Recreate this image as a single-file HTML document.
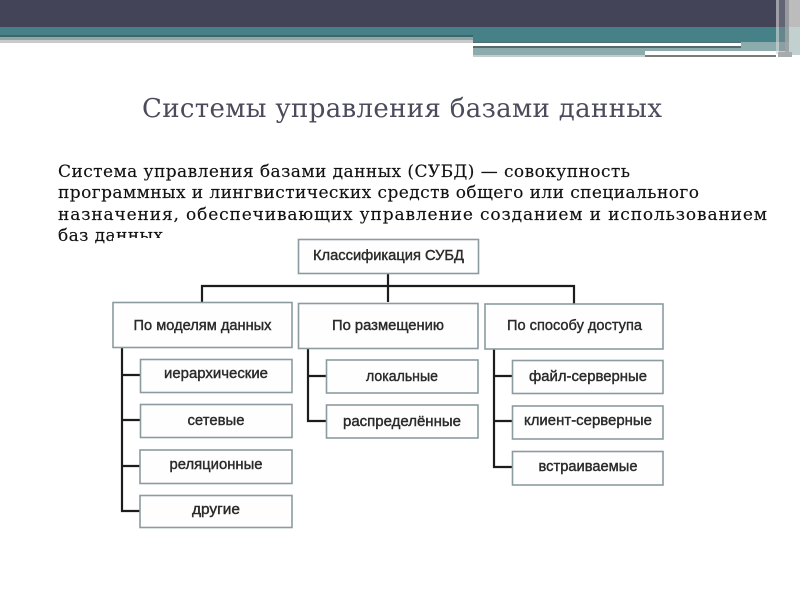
<!DOCTYPE html>
<html lang="ru">
<head>
<meta charset="utf-8">
<style>
html,body{margin:0;padding:0;background:#fff;width:800px;height:600px;overflow:hidden}
svg{display:block}
.t{font-family:"Liberation Sans",sans-serif;font-size:14.5px;fill:#2a2a2a;text-anchor:middle;stroke:#2a2a2a;stroke-width:.4}
.b{fill:#fefefe;stroke:#8b9ba0;stroke-width:1.6}
.l{stroke:#1c1c1c;stroke-width:2.2;fill:none}
.p{font-family:"DejaVu Serif",serif;font-size:17px;fill:#111;stroke:#111;stroke-width:.15}
</style>
</head>
<body>
<svg width="800" height="600" viewBox="0 0 800 600" xmlns="http://www.w3.org/2000/svg">
<rect width="800" height="600" fill="#fff"/>
<!-- header -->
<rect x="0" y="0" width="800" height="27" fill="#444459"/>
<rect x="0" y="27" width="800" height="8" fill="#458186"/>
<rect x="0" y="35" width="473" height="2" fill="#3f6469"/>
<rect x="0" y="37" width="473" height="3" fill="#90a6a9"/>
<rect x="0" y="40" width="473" height="3" fill="#cacaca"/>
<rect x="473" y="35" width="327" height="7" fill="#458186"/>
<rect x="473" y="42" width="268" height="1" fill="#4c6e72"/>
<rect x="473" y="43" width="268" height="3" fill="#fff"/>
<rect x="473" y="46" width="268" height="2" fill="#546b6d"/>
<rect x="473" y="48" width="303" height="7" fill="#8cabac"/>
<rect x="741" y="42" width="59" height="9" fill="#8cabac"/>
<rect x="473" y="55" width="172" height="2" fill="#c6cccc"/>
<rect x="645" y="51" width="131" height="4" fill="#fff"/>
<rect x="645" y="55" width="131" height="2" fill="#7c7c7c"/>
<!-- right strip -->
<rect x="776" y="0" width="3" height="54" fill="#d8dade" opacity=".6"/>
<rect x="779" y="0" width="6" height="54" fill="#8a8f96" opacity=".45"/>
<rect x="785" y="0" width="4" height="56" fill="#a0a3a4" opacity=".9"/>
<rect x="789" y="0" width="11" height="27" fill="#bcbcbc"/>
<rect x="789" y="27" width="11" height="28" fill="#c3d0d0"/>
<rect x="778" y="52" width="14" height="5" fill="#a6abab"/>
<!-- title -->
<text x="142" y="117" font-family="'DejaVu Serif',serif" font-size="26" fill="#4b4b5c" textLength="520" lengthAdjust="spacing">Системы управления базами данных</text>
<!-- paragraph -->
<text class="p" x="58" y="177" textLength="572" lengthAdjust="spacing">Система управления базами данных (СУБД) — совокупность</text>
<text class="p" x="58" y="198" textLength="641" lengthAdjust="spacing">программных и лингвистических средств общего или специального</text>
<text class="p" x="58" y="220" textLength="709" lengthAdjust="spacing">назначения, обеспечивающих управление созданием и использованием</text>
<text class="p" x="58" y="241" textLength="105" lengthAdjust="spacing">баз данных</text>
<rect x="113" y="238" width="70" height="10" fill="#fff"/>
<!-- connectors -->
<path class="l" d="M388 273V302M202 302V286H574V304"/>
<path class="l" d="M122 347V511H140M122 375H140M122 420H140M122 466H140"/>
<path class="l" d="M308 348V421H326M308 376H326"/>
<path class="l" d="M494 348V467H512M494 376H512M494 421H512"/>
<!-- boxes -->
<rect class="b" x="298.5" y="239.5" width="180" height="34"/>
<text class="t" x="388.500" y="260" textLength="151" lengthAdjust="spacingAndGlyphs">Классификация СУБД</text>
<rect class="b" x="113" y="302.5" width="179" height="45"/>
<text class="t" x="202.500" y="330" textLength="138" lengthAdjust="spacingAndGlyphs">По моделям данных</text>
<rect class="b" x="298.500" y="303.500" width="179.500" height="45"/>
<text class="t" x="388" y="330" textLength="112" lengthAdjust="spacingAndGlyphs">По размещению</text>
<rect class="b" x="485" y="304" width="178" height="45"/>
<text class="t" x="574.500" y="330" textLength="135" lengthAdjust="spacingAndGlyphs">По способу доступа</text>

<rect class="b" x="140.500" y="359.500" width="151.500" height="33"/>
<text class="t" x="216" y="378" textLength="104" lengthAdjust="spacingAndGlyphs">иерархические</text>
<rect class="b" x="140.500" y="404.500" width="151.500" height="33"/>
<text class="t" x="216" y="425" textLength="57" lengthAdjust="spacingAndGlyphs">сетевые</text>
<rect class="b" x="140" y="450" width="152" height="33.500"/>
<text class="t" x="216" y="469" textLength="93" lengthAdjust="spacingAndGlyphs">реляционные</text>
<rect class="b" x="140" y="495.500" width="152" height="32"/>
<text class="t" x="216" y="514" textLength="48" lengthAdjust="spacingAndGlyphs">другие</text>

<rect class="b" x="326.500" y="360" width="151.500" height="33"/>
<text class="t" x="402" y="381" textLength="72" lengthAdjust="spacingAndGlyphs">локальные</text>
<rect class="b" x="326.500" y="405" width="151.500" height="33"/>
<text class="t" x="402" y="426" textLength="118" lengthAdjust="spacingAndGlyphs">распределённые</text>

<rect class="b" x="512.500" y="360.500" width="150.500" height="33"/>
<text class="t" x="588" y="381" textLength="118" lengthAdjust="spacingAndGlyphs">файл-серверные</text>
<rect class="b" x="512.500" y="406" width="150.500" height="33"/>
<text class="t" x="588" y="425" textLength="128" lengthAdjust="spacingAndGlyphs">клиент-серверные</text>
<rect class="b" x="512.500" y="451.500" width="150.500" height="33.500"/>
<text class="t" x="588" y="471" textLength="99" lengthAdjust="spacingAndGlyphs">встраиваемые</text>
</svg>
</body>
</html>
